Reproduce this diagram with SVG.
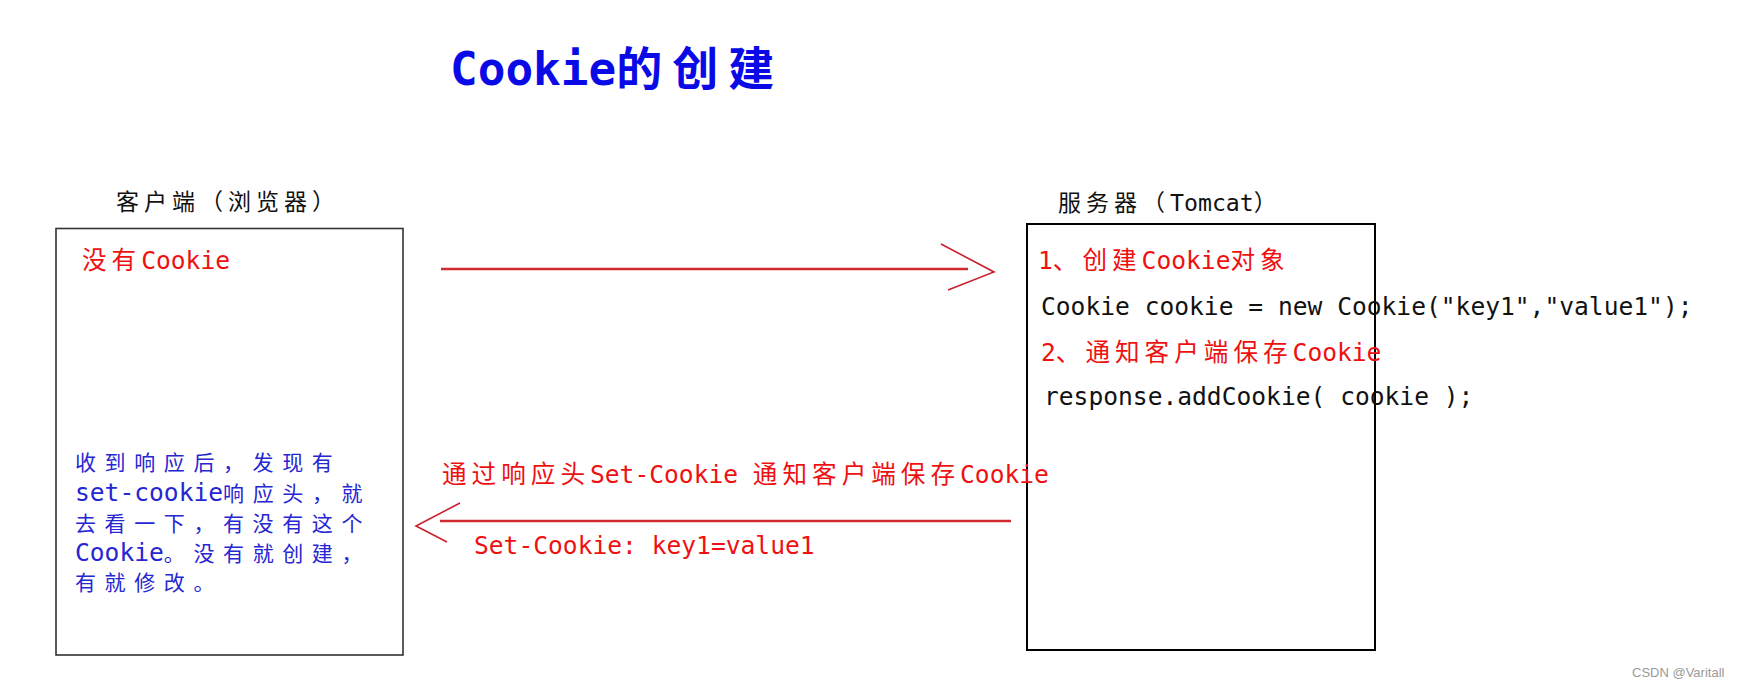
<svg xmlns="http://www.w3.org/2000/svg" width="1737" height="693" viewBox="0 0 1737 693">
<style>
.t{font-family:"DejaVu Sans Mono","Noto Sans CJK SC",monospace;font-size:24.6px}
.c{font-family:"Noto Sans CJK SC",sans-serif;letter-spacing:5px}
.cs{font-family:"Noto Sans CJK SC",sans-serif;font-size:21px;letter-spacing:8.6px}
.red{fill:#ee1111}
.blue{fill:#2626d2}
.blk{fill:#111}
.hd{font-family:"DejaVu Sans Mono","Noto Sans CJK SC",monospace;font-size:23.2px;fill:#111}
.hc{font-family:"Noto Sans CJK SC",sans-serif;font-size:23px;letter-spacing:5px}
.box{fill:none}
.ln{stroke:#d02a30;stroke-width:2.4;fill:none}
.hv{stroke:#c8202c;stroke-width:1.6;fill:none;stroke-linejoin:miter}
</style>
<rect width="1737" height="693" fill="#ffffff"/>
<g id="title">
<text x="450" y="85" font-family="DejaVu Sans Mono,monospace" font-weight="bold" font-size="46" fill="#0a0ae6">Cookie<tspan font-family="Noto Sans CJK SC,sans-serif" letter-spacing="10">的创建</tspan></text>
</g>
<g id="client">
<text class="hd" x="116" y="210"><tspan class="hc">客户端（浏览器）</tspan></text>
<rect class="box" x="56" y="228.5" width="347" height="426.5" stroke="#333" stroke-width="1.6"/>
<text class="t red" x="82" y="269"><tspan class="c">没有</tspan>Cookie</text>
<text class="t blue" x="75" y="470"><tspan class="cs">收到响应后，发现有</tspan></text>
<text class="t blue" x="75" y="501">set-cookie<tspan class="cs">响应头，就</tspan></text>
<text class="t blue" x="75" y="531"><tspan class="cs">去看一下，有没有这个</tspan></text>
<text class="t blue" x="75" y="561">Cookie<tspan class="cs">。没有就创建，</tspan></text>
<text class="t blue" x="75" y="590"><tspan class="cs">有就修改。</tspan></text>
</g>
<g id="server">
<text class="hd" x="1058" y="211"><tspan class="hc">服务器（</tspan>Tomcat<tspan class="hc">）</tspan></text>
<rect class="box" x="1027" y="224" width="348" height="426" stroke="#000" stroke-width="2"/>
<text class="t red" x="1038" y="269">1<tspan class="c">、创建</tspan>Cookie<tspan class="c">对象</tspan></text>
<text class="t blk" x="1041" y="315">Cookie cookie = new Cookie("key1","value1");</text>
<text class="t red" x="1041" y="361">2<tspan class="c">、通知客户端保存</tspan>Cookie</text>
<text class="t blk" x="1044" y="405">response.addCookie( cookie );</text>
</g>
<g id="connectors">
<line class="ln" x1="441" y1="269" x2="968" y2="269"/>
<polyline class="hv" points="941,244 994,272 948,290"/>
<line class="ln" x1="440" y1="521" x2="1011" y2="521"/>
<polyline class="hv" points="460,503 416,526 447,542"/>
<text class="t red" x="442" y="483"><tspan class="c">通过响应头</tspan>Set-Cookie <tspan class="c">通知客户端保存</tspan>Cookie</text>
<text class="t red" x="474" y="554">Set-Cookie: key1=value1</text>
</g>
<text x="1632" y="677" font-family="Liberation Sans,sans-serif" font-size="13" fill="#9a9a9a">CSDN @Varitall</text>
</svg>
